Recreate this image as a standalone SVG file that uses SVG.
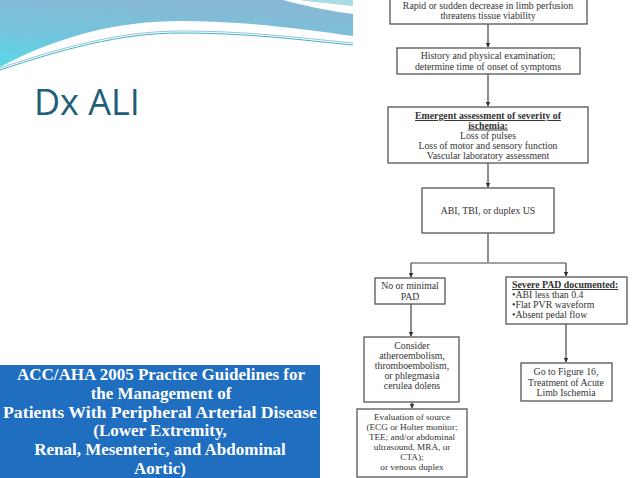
<svg xmlns="http://www.w3.org/2000/svg" width="638" height="478" viewBox="0 0 638 478">
<defs>
<linearGradient id="wave" x1="0" y1="1" x2="0.3" y2="0">
<stop offset="0" stop-color="#58d8e8"/>
<stop offset="0.5" stop-color="#74c4dc"/>
<stop offset="1" stop-color="#86b9d5"/>
</linearGradient>
<marker id="arr" viewBox="0 0 10 10" refX="9" refY="5" markerWidth="5" markerHeight="5" orient="auto" markerUnits="userSpaceOnUse">
<path d="M0,0 L10,5 L0,10 Z" fill="#333"/>
</marker>
<style>
.box{fill:#fff;stroke:#555;stroke-width:1.3}
.t{font-family:"Liberation Serif","Times New Roman",serif;font-size:9.8px;fill:#333;text-anchor:middle}
.s{font-size:9.2px}
.tl{font-family:"Liberation Serif","Times New Roman",serif;font-size:9.8px;fill:#333}
.b{font-weight:bold;text-decoration:underline}
.c{fill:none;stroke:#444;stroke-width:1.2}
.w{font-family:"Liberation Serif","Times New Roman",serif;font-size:17px;font-weight:bold;fill:#fff;text-anchor:middle}
</style>
</defs>
<rect width="638" height="478" fill="#fff"/>
<g id="wave-deco">
<path d="M0,0 H353 V36 C310,30 250,21 180,21 C120,21 60,35 0,67 Z" fill="url(#wave)"/>
<path d="M300,0 H353 V6 C335,4 315,2 300,0 Z" fill="#a9dde6"/>
<path d="M283,0 H300 C315,2 335,4 353,6 V14 C330,11 305,6 283,0 Z" fill="#fff"/>
<path d="M0,70 C60,50 120,33 180,33 C250,33 300,40 353,45" fill="none" stroke="#3db4c4" stroke-width="1"/>
<path d="M0,68 C60,48 120,31 180,31 C250,31 300,38 353,43" fill="none" stroke="#5a9cc8" stroke-width="0.8" opacity="0.8"/>
</g>
<g id="title">
<text x="34" y="115" font-family="'Open Sans',Lato,sans-serif" font-size="36" fill="#215e79">Dx ALI</text>
</g>
<g id="citation">
<rect x="0" y="365" width="320" height="113" fill="#1f6ec0"/>
<text class="w" x="161" y="380">ACC/AHA 2005 Practice Guidelines for</text>
<text class="w" x="161" y="398.8">the Management of</text>
<text class="w" x="160" y="417.6" textLength="314" lengthAdjust="spacingAndGlyphs">Patients With Peripheral Arterial Disease</text>
<text class="w" x="160" y="436.4">(Lower Extremity,</text>
<text class="w" x="160" y="455.2">Renal, Mesenteric, and Abdominal</text>
<text class="w" x="160" y="474">Aortic)</text>
</g>
<g id="connectors">
<path class="c" d="M488,24 V47" marker-end="url(#arr)"/>
<path class="c" d="M488,74 V106" marker-end="url(#arr)"/>
<path class="c" d="M488,163 V187" marker-end="url(#arr)"/>
<path class="c" d="M488,233 V262"/>
<path class="c" d="M411,263 H566"/>
<path class="c" d="M411,263 V277" marker-end="url(#arr)"/>
<path class="c" d="M566,263 V276" marker-end="url(#arr)"/>
<path class="c" d="M411,304 V336" marker-end="url(#arr)"/>
<path class="c" d="M412,402 V408" marker-end="url(#arr)"/>
<path class="c" d="M566,324 V362" marker-end="url(#arr)"/>
</g>
<g id="n1">
<rect class="box" x="390" y="-2" width="197" height="26"/>
<text class="t" x="488" y="9">Rapid or sudden decrease in limb perfusion</text>
<text class="t" x="488" y="19">threatens tissue viability</text>
</g>
<g id="n2">
<rect class="box" x="397" y="48" width="183" height="26"/>
<text class="t" x="488" y="59">History and physical examination;</text>
<text class="t" x="488" y="70">determine time of onset of symptoms</text>
</g>
<g id="n3">
<rect class="box" x="388" y="107" width="200" height="56"/>
<text class="t b" x="488" y="119">Emergent assessment of severity of</text>
<text class="t b" x="488" y="128.5">ischemia:</text>
<text class="t" x="488" y="138.5">Loss of pulses</text>
<text class="t" x="488" y="148.5">Loss of motor and sensory function</text>
<text class="t" x="488" y="158.5">Vascular laboratory assessment</text>
</g>
<g id="n4">
<rect class="box" x="422" y="188" width="132" height="45"/>
<text class="t" x="488" y="214">ABI, TBI, or duplex US</text>
</g>
<g id="n5">
<rect class="box" x="375" y="278" width="70" height="26"/>
<text class="t" x="410" y="289">No or minimal</text>
<text class="t" x="410" y="300">PAD</text>
</g>
<g id="n6">
<rect class="box" x="506" y="277" width="121" height="47"/>
<text class="tl b" x="512" y="288">Severe PAD documented:</text>
<text class="tl" x="512" y="298">•ABI less than 0.4</text>
<text class="tl" x="512" y="308">•Flat PVR waveform</text>
<text class="tl" x="512" y="318">•Absent pedal flow</text>
</g>
<g id="n7">
<rect class="box" x="364" y="337" width="95" height="65"/>
<text class="t" x="412" y="349">Consider</text>
<text class="t" x="412" y="359">atheroembolism,</text>
<text class="t" x="412" y="369">thromboembolism,</text>
<text class="t" x="412" y="379">or phlegmasia</text>
<text class="t" x="412" y="389">cerulea dolens</text>
</g>
<g id="n8">
<rect class="box" x="521" y="363" width="91" height="38"/>
<text class="t" x="566" y="375">Go to Figure 16,</text>
<text class="t" x="566" y="386">Treatment of Acute</text>
<text class="t" x="566" y="396">Limb Ischemia</text>
</g>
<g id="n9">
<rect class="box" x="357" y="409" width="110" height="68"/>
<text class="t s" x="412" y="419.5">Evaluation of source</text>
<text class="t s" x="412" y="429.5">(ECG or Holter monitor;</text>
<text class="t s" x="412" y="439.5">TEE; and/or abdominal</text>
<text class="t s" x="412" y="449.5">ultrasound, MRA, or</text>
<text class="t s" x="412" y="459.5">CTA);</text>
<text class="t s" x="412" y="469.5">or venous duplex</text>
</g>
</svg>
